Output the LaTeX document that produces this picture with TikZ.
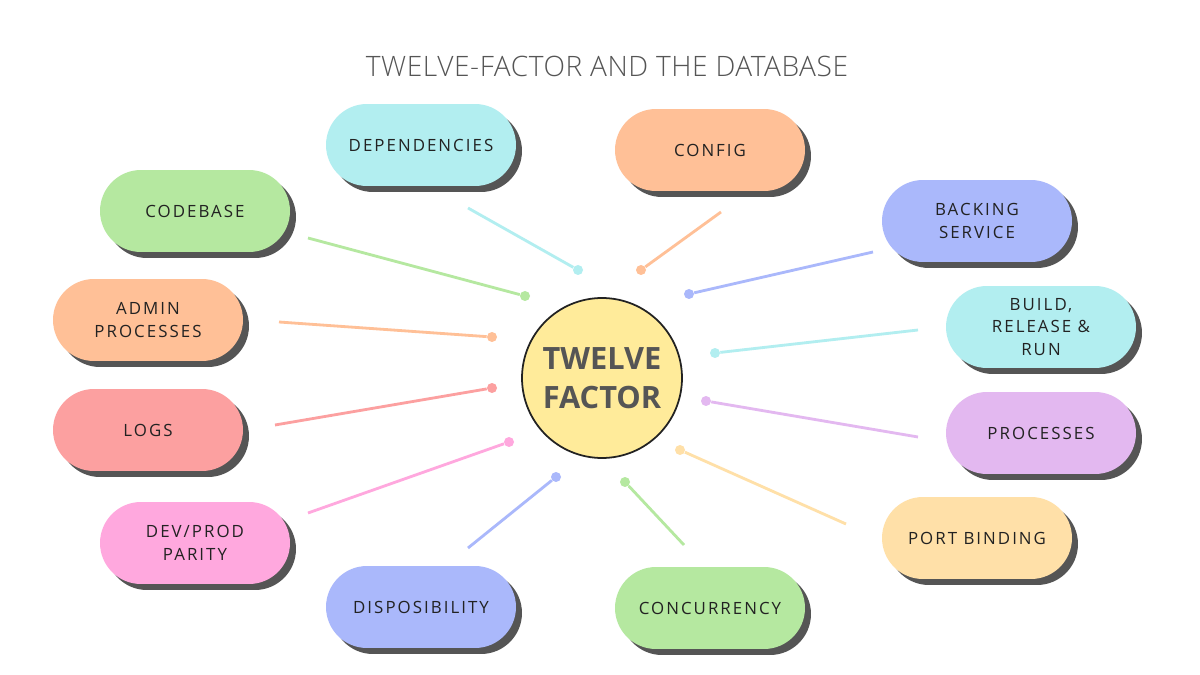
\documentclass[tikz,border=0pt]{standalone}
\usepackage{fontspec}
\setmainfont{Open Sans}
\newfontfamily\lblfont[LetterSpace=12]{Open Sans}
\newfontfamily\ttlfont[LetterSpace=2]{Open Sans Light}
\definecolor{cgreen}{HTML}{B5E8A0}
\definecolor{ccyan}{HTML}{B2EEF0}
\definecolor{corange}{HTML}{FFC097}
\definecolor{cblue}{HTML}{AAB8FB}
\definecolor{cred}{HTML}{FCA0A0}
\definecolor{cpurple}{HTML}{E3B8F0}
\definecolor{cpink}{HTML}{FFA8DE}
\definecolor{cyellow}{HTML}{FFE0A8}
\definecolor{ccenter}{HTML}{FFEB9A}
\definecolor{shade}{HTML}{555555}
\definecolor{txt}{HTML}{222222}
\begin{document}
\begin{tikzpicture}[x=0.02cm,y=-0.02cm,
  pill/.style={minimum width=3.8cm, minimum height=1.64cm,
    rounded corners=0.82cm, align=center, font=\lblfont\fontsize{9.6}{13}\selectfont, text=txt},
  pillshadow/.style={fill=shade, rounded corners=0.82cm, minimum width=3.8cm, minimum height=1.64cm},
  dotn/.style={circle, inner sep=0pt, minimum size=0.2cm},
  conn/.style={line width=1.6pt}]
\useasboundingbox (0,0) rectangle (1200,675);
\fill[white] (0,0) rectangle (1200,675);
\node[font=\ttlfont\fontsize{16}{20}\selectfont, text=shade] (title) at (607,66) {TWELVE-FACTOR AND THE DATABASE};
% connectors
\foreach \n/\dx/\dy/\ex/\ey/\c in {
  dep/578/270/468/208/ccyan, cfg/641/270/721/212/corange, cod/525/296/308/238/cgreen,
  bak/689/294/873/252/cblue, adm/492/337/279/322/corange, bld/715/353/918/330/ccyan,
  log/492/388/275/425/cred, pro/706/401/918/437/cpurple, dev/509/442/308/513/cpink,
  prt/680/450/846/524/cyellow, dsp/556/477/468/548/cblue, con/625/482/684/545/cgreen}{
  \node[dotn, fill=\c] (d\n) at (\dx,\dy) {};
  \coordinate (e\n) at (\ex,\ey);
  \draw[conn, \c] (d\n) -- (e\n);
}
% pills
\foreach \n/\x/\y/\c/\t in {
  dep/421/145/ccyan/DEPENDENCIES, cfg/710/150/corange/CONFIG, cod/195/211/cgreen/CODEBASE,
  bak/977/221/cblue/{BACKING\\SERVICE}, adm/148/320/corange/{ADMIN\\PROCESSES},
  bld/1041/327/ccyan/{BUILD,\\RELEASE \&\\RUN}, log/148/430/cred/LOGS,
  pro/1041/433/cpurple/PROCESSES, dev/195/543/cpink/{DEV/PROD\\PARITY},
  prt/977/538/cyellow/PORT BINDING, dsp/421/607/cblue/DISPOSIBILITY, con/710/608/cgreen/CONCURRENCY}{
  \node[pillshadow] (s\n) at (\x+6,\y+6) {};
  \node[pill, fill=\c] (p\n) at (\x,\y) {\t};
}
\node[circle, draw=txt, line width=1pt, fill=ccenter, minimum size=3.2cm, align=center,
  font=\bfseries\fontsize{17.5}{22}\selectfont, text=shade] (center) at (602,378) {TWELVE\\FACTOR};
\end{tikzpicture}
\end{document}
